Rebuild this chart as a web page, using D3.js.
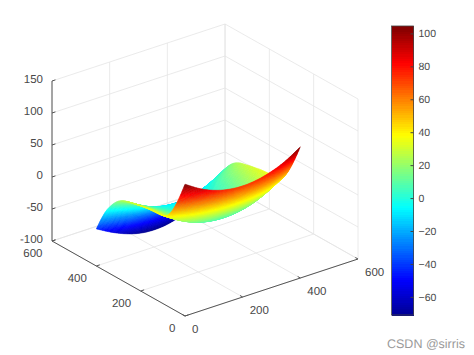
<!DOCTYPE html>
<html lang="en">

<head>
    <title>Surface</title>
    <meta charset="utf-8">
    <script src="https://d3js.org/d3.v7.min.js"></script>
    <style>
        body { margin: 0; background: #fff; }
        text { font-family: "Liberation Sans", Arial, sans-serif; font-size: 11.5px; fill: #484848; text-rendering: geometricPrecision; }
        .bar-axis text { font-size: 10.5px; }
    </style>
</head>

<body>
    <div id="container"></div>
    <script>
        // Surface values
        const xValues = [0, 50, 100, 150, 200, 250, 300, 350, 400];
        const yValues = [0, 25, 50, 75, 100, 150, 200, 250, 300, 350, 375, 400];
        const zValues = [
            [106, 91, 81, 75, 73, 75, 81, 90, 105],
            [80, 65, 54, 48, 46, 48, 54, 65, 80],
            [58, 44, 33, 27, 25, 27, 33, 44, 58],
            [42, 28, 17, 11, 9, 11, 17, 28, 42],
            [36, 21, 10, 4, 2, 4, 10, 21, 36],
            [36, 22, 11, 5, 3, 5, 11, 22, 36],
            [33, 19, 8, 2, 0, 2, 8, 19, 33],
            [29, 15, 4, -2, -4, -2, 4, 15, 29],
            [24, 10, -1, -7, -9, -7, -1, 10, 24],
            [0, -14, -25, -31, -33, -31, -25, -14, 0],
            [-19, -33, -44, -50, -52, -50, -44, -33, -19],
            [-42, -55, -65, -72, -74, -72, -65, -55, -42]
        ];

        // Tick labels
        const xyTicks = [0, 200, 400, 600];
        const zTicks = [-100, -50, 0, 50, 100, 150];
        const barTicks = [-60, -40, -20, 0, 20, 40, 60, 80, 100];
        const colorDomain = [-71, 104.5];
        const jetStops = ["#00008f", "#0000ff", "#00ffff", "#ffff00", "#ff0000", "#800000"];
        const jetOffsets = [0, 1 / 8, 3 / 8, 5 / 8, 7 / 8, 1];

        // Chart dimensions
        const width = 474;
        const height = 355;
        const origin = { x: 185, y: 316 };
        const levels = 128;

        const svg = d3.select("#container")
            .append("svg")
            .attr("width", width)
            .attr("height", height);

        // Create scales: each data axis moves the point on the screen
        const xToScreen = d3.scaleLinear().domain([0, 600]).range([[0, 0], [173, -57]]);
        const yToScreen = d3.scaleLinear().domain([0, 600]).range([[0, 0], [-133, -75]]);
        const zToScreen = d3.scaleLinear().domain([-100, 150]).range([0, -160]);

        function project(x, y, z) {
            const a = xToScreen(x);
            const b = yToScreen(y);
            return [origin.x + a[0] + b[0], origin.y + a[1] + b[1] + zToScreen(z)];
        }

        const jetRamp = d3.scaleLinear().domain(jetOffsets).range(jetStops).interpolate(d3.interpolateRgb);
        const jetColors = d3.range(levels).map(i => jetRamp((i + 0.5) / levels));
        const color = d3.scaleQuantize().domain(colorDomain).range(jetColors);

        // Draw peripherals
        const line3d = (a, b) => svg.append("line")
            .attr("x1", project(...a)[0]).attr("y1", project(...a)[1])
            .attr("x2", project(...b)[0]).attr("y2", project(...b)[1]);

        const grid = (a, b) => line3d(a, b).attr("stroke", "#e4e4e4").attr("stroke-width", 0.8);
        const axis = (a, b) => line3d(a, b).attr("stroke", "#555").attr("stroke-width", 1);

        xyTicks.forEach(t => {
            grid([t, 0, -100], [t, 600, -100]);
            grid([0, t, -100], [600, t, -100]);
            grid([t, 600, -100], [t, 600, 150]);
            grid([600, t, -100], [600, t, 150]);
        });
        zTicks.forEach(t => {
            grid([0, 600, t], [600, 600, t]);
            grid([600, 600, t], [600, 0, t]);
        });

        axis([0, 0, -100], [600, 0, -100]);
        axis([0, 0, -100], [0, 600, -100]);
        axis([0, 600, -100], [0, 600, 150]);

        xyTicks.forEach(t => {
            axis([t, 0, -100], [t, 12, -100]);
            axis([0, t, -100], [12, t, -100]);
            const px = project(t, 0, -100);
            svg.append("text").attr("x", px[0] + 7).attr("y", px[1] + 13)
                .attr("dy", "0.35em").text(t);
            const py = project(0, t, -100);
            svg.append("text").attr("x", py[0] - 9.5).attr("y", py[1] + 12)
                .attr("dy", "0.35em").attr("text-anchor", "end").text(t);
        });
        zTicks.forEach(t => {
            axis([0, 600, t], [12, 600, t]);
            const p = project(0, 600, t);
            svg.append("text").attr("x", p[0] - 9).attr("y", p[1] - 2.5)
                .attr("dy", "0.35em").attr("text-anchor", "end").text(t);
        });

        // Draw data: finer grid along the splines, far cells first
        const rowSplines = zValues.map(row => d3.interpolateBasis(row));
        const xAt = d3.interpolateBasis(xValues);
        const yAt = d3.interpolateBasis(yValues);
        const nx = 72;
        const ny = 110;
        const fine = d3.range(ny + 1).map(j => {
            const v = j / ny;
            const across = d3.range(nx + 1).map(i => {
                const u = i / nx;
                const z = d3.interpolateBasis(rowSplines.map(s => s(u)))(v);
                return { p: project(xAt(u), yAt(v), z), z };
            });
            return across;
        });

        const cells = [];
        for (let j = ny - 1; j >= 0; j--) {
            for (let i = nx - 1; i >= 0; i--) {
                const q = [fine[j][i], fine[j][i + 1], fine[j + 1][i + 1], fine[j + 1][i]];
                cells.push({ points: q.map(d => d.p), z: d3.mean(q, d => d.z) });
            }
        }

        svg.append("g").selectAll("path")
            .data(cells)
            .enter().append("path")
            .attr("d", d => "M" + d.points.join("L") + "Z")
            .attr("fill", d => color(d.z))
            .attr("stroke", d => color(d.z))
            .attr("stroke-width", 0.5);

        // Colorbar
        const barX = 391.5;
        const barW = 22;
        const barScale = d3.scaleLinear().domain(colorDomain).range([315, 26]);
        const barSteps = d3.range(levels);
        const stepSize = (colorDomain[1] - colorDomain[0]) / levels;

        svg.append("g")
            .attr("shape-rendering", "crispEdges")
            .selectAll("rect")
            .data(barSteps)
            .enter().append("rect")
            .attr("x", barX)
            .attr("y", d => Math.floor(barScale(colorDomain[0] + (d + 1) * stepSize)))
            .attr("width", barW)
            .attr("height", 4)
            .attr("fill", d => jetColors[d]);

        svg.append("rect")
            .attr("x", barX).attr("y", 26)
            .attr("width", barW).attr("height", 289)
            .attr("fill", "none").attr("stroke", "#444").attr("stroke-width", 0.8);

        const barAxis = svg.append("g")
            .attr("class", "bar-axis")
            .attr("transform", `translate(${barX + barW},0)`)
            .call(d3.axisRight(barScale).tickValues(barTicks).tickSize(-3).tickPadding(5));
        barAxis.select(".domain").remove();
        barAxis.selectAll("line").attr("stroke", "#444");
        barAxis.attr("font-family", null).attr("font-size", null);

        // Watermark
        svg.append("text")
            .attr("x", 387).attr("y", 348)
            .style("font-size", "12.5px")
            .style("fill", "#9a9a9a")
            .text("CSDN @sirris");
    </script>
</body>

</html>
